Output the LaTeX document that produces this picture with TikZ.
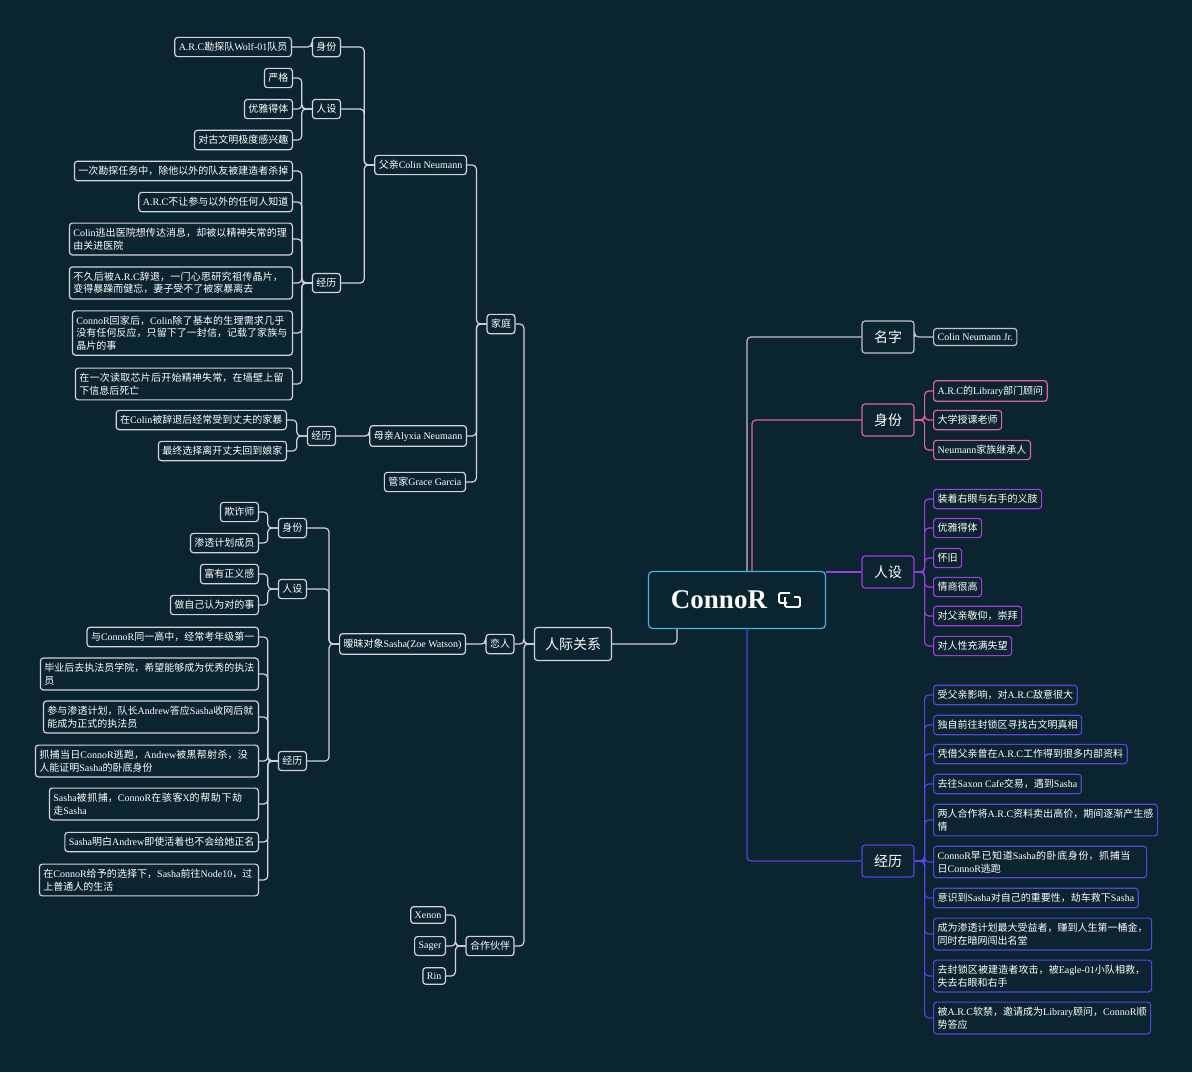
\documentclass[tikz,border=0pt]{standalone}
\usepackage{fontspec}
\setmainfont{Liberation Serif}
\newfontfamily\cjk{Noto Sans CJK SC}
\XeTeXlinebreaklocale "zh"
\XeTeXlinebreakskip=0pt plus 1pt
\XeTeXinterchartokenstate=1
\newXeTeXintercharclass\CJKcls
\newcount\cc
\cc="4E00 \loop\ifnum\cc<"A000 \XeTeXcharclass\cc=\CJKcls \advance\cc 1 \repeat
\cc="3000 \loop\ifnum\cc<"3040 \XeTeXcharclass\cc=\CJKcls \advance\cc 1 \repeat
\cc="FF00 \loop\ifnum\cc<"FFF0 \XeTeXcharclass\cc=\CJKcls \advance\cc 1 \repeat
\XeTeXinterchartoks 0 \CJKcls={\cjk}
\XeTeXinterchartoks 4095 \CJKcls={\cjk}
\XeTeXinterchartoks \CJKcls 0={\rmfamily}
\definecolor{bg}{HTML}{0B2530}
\definecolor{lw}{HTML}{D8D0E0}
\definecolor{pk}{HTML}{E55FA5}
\definecolor{pu}{HTML}{A33BE0}
\definecolor{ind}{HTML}{5B3FE0}
\definecolor{cy}{HTML}{4AB0E0}
\tikzset{
 b/.style={draw=#1,fill=bg,text=white,rounded corners=3pt,line width=1.2pt,font=\fontsize{10}{12.5}\selectfont,inner xsep=4pt,inner ysep=5pt,align=left},
 cat/.style={b=#1,font=\fontsize{14}{16}\selectfont,minimum width=52pt,minimum height=32pt},
 ln/.style={draw=#1,line width=1.2pt,rounded corners=4pt},
}
\newcommand\lk[4]{\draw[ln=#1] (#2) -- ++(#3,0) |- (#4);}
\begin{document}
\begin{tikzpicture}[x=1pt,y=-1pt]
\fill[bg] (0,0) rectangle (1192,1072);
\useasboundingbox (0,0) rectangle (1192,1072);
% center
\node[draw=cy,fill=bg,text=white,rounded corners=4pt,line width=1.2pt,minimum width=177pt,minimum height=57pt] (C) at (737,600) {\fontsize{27}{30}\selectfont\bfseries ConnoR\hspace*{36pt}};
\begin{scope}[draw=white,line width=1.8pt,rounded corners=1.5pt]
\draw (790,593) -- (779,593) -- (779,603) -- (787,603);
\draw (785,597) -- (785,607) -- (800,607) -- (800,597) -- (794,597);
\end{scope}
% right categories
\node[cat=lw!80!gray] (nm) at (888,337) {名字};
\node[b=lw!80!gray,anchor=west] (nm1) at (933,337) {Colin Neumann Jr.};
\draw[ln=lw!80!gray] ([xshift=99]C.north west) |- (nm.west);
\lk{lw!80!gray}{nm.east}{0}{nm1.west}
\node[cat=pk] (id) at (888,420) {身份};
\draw[ln=pk] ([xshift=104]C.north west) |- (id.west);
\foreach \n/\y/\t in {1/391/A.R.C的Library部门顾问,2/420/大学授课老师,3/450/Neumann家族继承人}{
 \node[b=pk,anchor=west] (id\n) at (933,\y) {\t};
 \lk{pk}{id.east}{10}{id\n.west}}
\node[cat=pu] (st) at (888,572) {人设};
\draw[ln=pu] (C.east |- st.west) -- (st.west);
\foreach \n/\y/\t in {1/499/装着右眼与右手的义肢,2/528/优雅得体,3/558/怀旧,4/587/情商很高,5/616/对父亲敬仰，崇拜,6/646/对人性充满失望}{
 \node[b=pu,anchor=west] (st\n) at (933,\y) {\t};
 \lk{pu}{st.east}{10}{st\n.west}}
\node[cat=ind] (ex) at (888,861) {经历};
\draw[ln=ind] ([xshift=99]C.south west) |- (ex.west);
\foreach \n/\y/\w/\t in {1/695/0/受父亲影响，对A.R.C敌意很大,2/725/0/独自前往封锁区寻找古文明真相,3/754/0/凭借父亲曾在A.R.C工作得到很多内部资料,4/784/0/去往Saxon Cafe交易，遇到Sasha,5/820/216/两人合作将A.R.C资料卖出高价，期间逐渐产生感情,6/862/205/ConnoR早已知道Sasha的卧底身份，抓捕当日ConnoR逃跑,7/898/0/意识到Sasha对自己的重要性，劫车救下Sasha,8/934/210/成为渗透计划最大受益者，赚到人生第一桶金，同时在暗网闯出名堂,9/976/210/去封锁区被建造者攻击，被Eagle-01小队相救，失去右眼和右手,10/1018/209/被A.R.C软禁，邀请成为Library顾问，ConnoR顺势答应}{
 \ifnum\w=0 \node[b=ind,anchor=west] (ex\n) at (933,\y) {\t};
 \else \node[b=ind,anchor=west,text width=\w pt] (ex\n) at (933,\y) {\t};\fi
 \lk{ind}{ex.east}{10}{ex\n.west}}
% left
\node[cat=lw,minimum width=77pt,minimum height=33pt] (rel) at (573,644) {人际关系};
\draw[ln=lw] ([xshift=29]C.south west) |- (rel.east);
\node[b=lw] (fam) at (501,324) {家庭};
\node[b=lw] (lov) at (500,644) {恋人};
\node[b=lw] (par) at (490,946) {合作伙伴};
\foreach \c in {fam,lov,par}{\lk{lw}{rel.west}{-10}{\c.east}}
\node[b=lw,anchor=east] (fa) at (467,165) {父亲Colin Neumann};
\node[b=lw,anchor=east] (mo) at (467,436) {母亲Alyxia Neumann};
\node[b=lw,anchor=east] (gr) at (466,482) {管家Grace Garcia};
\foreach \c in {fa,mo,gr}{\lk{lw}{fam.west}{-10}{\c.east}}
\node[b=lw,anchor=east] (fid) at (341,47) {身份};
\node[b=lw,anchor=east] (fst) at (341,109) {人设};
\node[b=lw,anchor=east] (fex) at (341,283) {经历};
\foreach \c in {fid,fst,fex}{\lk{lw}{fa.west}{-10}{\c.east}}
\node[b=lw,anchor=east] (fid1) at (292,47) {A.R.C勘探队Wolf-01队员};
\lk{lw}{fid.west}{0}{fid1.east}
\foreach \n/\y/\t in {1/78/严格,2/109/优雅得体,3/140/对古文明极度感兴趣}{
 \node[b=lw,anchor=east] (fst\n) at (293,\y) {\t};
 \lk{lw}{fst.west}{-10}{fst\n.east}}
\foreach \n/\y/\w/\t in {1/171/0/一次勘探任务中，除他以外的队友被建造者杀掉,2/202/0/A.R.C不让参与以外的任何人知道,3/239/215/Colin逃出医院想传达消息，却被以精神失常的理由关进医院,4/283/215/不久后被A.R.C辞退，一门心思研究祖传晶片，变得暴躁而健忘，妻子受不了被家暴离去,5/333/212/ConnoR回家后，Colin除了基本的生理需求几乎没有任何反应，只留下了一封信，记载了家族与晶片的事,6/384/209/在一次读取芯片后开始精神失常，在墙壁上留下信息后死亡}{
 \ifnum\w=0 \node[b=lw,anchor=east] (fex\n) at (293,\y) {\t};
 \else \node[b=lw,anchor=east,text width=\w pt] (fex\n) at (293,\y) {\t};\fi
 \lk{lw}{fex.west}{-10}{fex\n.east}}
\node[b=lw,anchor=east] (mex) at (336,436) {经历};
\lk{lw}{mo.west}{0}{mex.east}
\node[b=lw,anchor=east] (mex1) at (287,420) {在Colin被辞退后经常受到丈夫的家暴};
\node[b=lw,anchor=east] (mex2) at (287,451) {最终选择离开丈夫回到娘家};
\lk{lw}{mex.west}{-10}{mex1.east}
\lk{lw}{mex.west}{-10}{mex2.east}
\node[b=lw,anchor=east] (sa) at (466,644) {暧昧对象Sasha(Zoe Watson)};
\lk{lw}{lov.west}{0}{sa.east}
\node[b=lw,anchor=east] (sid) at (307,528) {身份};
\node[b=lw,anchor=east] (sst) at (307,589) {人设};
\node[b=lw,anchor=east] (sex) at (307,761) {经历};
\foreach \c in {sid,sst,sex}{\lk{lw}{sa.west}{-10}{\c.east}}
\foreach \n/\y/\t in {1/512/欺诈师,2/543/渗透计划成员}{
 \node[b=lw,anchor=east] (sid\n) at (259,\y) {\t};
 \lk{lw}{sid.west}{-10}{sid\n.east}}
\foreach \n/\y/\t in {1/574/富有正义感,2/605/做自己认为对的事}{
 \node[b=lw,anchor=east] (sst\n) at (259,\y) {\t};
 \lk{lw}{sst.west}{-10}{sst\n.east}}
\foreach \n/\y/\w/\t in {1/637/0/与ConnoR同一高中，经常考年级第一,2/674/210/毕业后去执法员学院，希望能够成为优秀的执法员,3/717/207/参与渗透计划，队长Andrew答应Sasha收网后就能成为正式的执法员,4/761/215/抓捕当日ConnoR逃跑，Andrew被黑帮射杀，没人能证明Sasha的卧底身份,5/804/201/Sasha被抓捕，ConnoR在骇客X的帮助下劫走Sasha,6/842/0/Sasha明白Andrew即使活着也不会给她正名,7/880/211/在ConnoR给予的选择下，Sasha前往Node10，过上普通人的生活}{
 \ifnum\w=0 \node[b=lw,anchor=east] (sex\n) at (259,\y) {\t};
 \else \node[b=lw,anchor=east,text width=\w pt] (sex\n) at (259,\y) {\t};\fi
 \lk{lw}{sex.west}{-10}{sex\n.east}}
\foreach \n/\y/\t in {1/915/Xenon,2/946/Sager,3/976/Rin}{
 \node[b=lw,anchor=east] (pa\n) at (446,\y) {\t};
 \lk{lw}{par.west}{-10}{pa\n.east}}
\end{tikzpicture}
\end{document}
